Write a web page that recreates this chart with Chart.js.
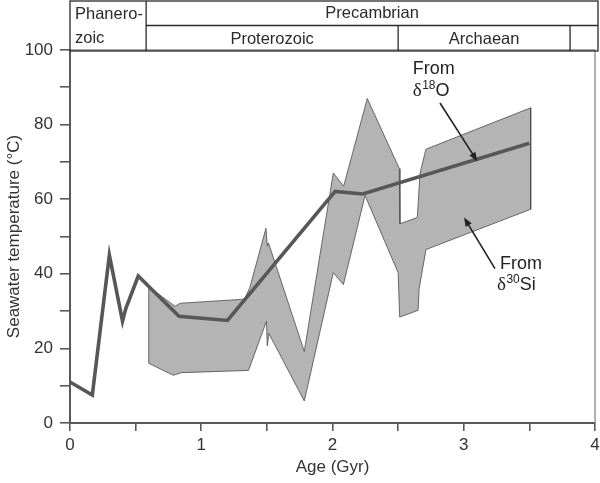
<!DOCTYPE html>
<html>
<head>
<meta charset="utf-8">
<script src="https://cdn.jsdelivr.net/npm/chart.js@4.4.1/dist/chart.umd.min.js"></script>
<style>
  html, body { margin: 0; padding: 0; background: #fff; }
  #wrap { width: 600px; height: 483px; }
</style>
</head>
<body>
<div id="wrap"><canvas id="my-chart"></canvas></div>
<script>
'use strict';

// *********** DATA ****************

// temperature curve from d18O
let oxygenAge = [0, 0.17, 0.3, 0.4, 0.425, 0.52, 0.83, 1.2, 2.02, 2.23, 3.5];
let oxygenTemp = [11, 7.5, 45, 27.3, 30.7, 39.4, 28.6, 27.5, 62.1, 61.4, 75];

// range from d30Si, traced round its outline (top edge left to right, then bottom edge back)
let siliconAge = [0.6, 0.8, 0.84, 1.33, 1.37, 1.493, 1.503, 1.512, 1.785, 2.006, 2.085, 2.265,
  2.509, 2.514, 2.646, 2.667, 2.712, 3.51, 3.51, 2.712, 2.66, 2.652, 2.512, 2.5, 2.248, 2.083,
  2.006, 1.785, 1.515, 1.503, 1.497, 1.36, 0.85, 0.787, 0.6, 0.6];
let siliconTemp = [36.5, 31.3, 32.1, 33.2, 36.3, 52.2, 47.4, 48.3, 19.2, 67, 63.5, 87,
  68.2, 53.4, 55.1, 67, 73.4, 84.5, 57.3, 46.5, 36, 30.2, 28.4, 40.3, 61, 37.1,
  40.3, 5.9, 24, 20.7, 27.3, 14.1, 13.5, 12.8, 16, 36.5];

let xTickLabels = [0, 1, 2, 3, 4];
let yTickLabels = [0, 20, 40, 60, 80, 100];

// geological time scale along the top (Gyr, as drawn in the figure)
let phanerozoicEnd = 0.58;
let eonNames = ['Proterozoic', 'Archaean', ''];
let eonBounds = [0.58, 2.5, 3.81, 4];

// ********** HELPERS *******************

function toPoints(xs, ys) {
  let pts = [];
  for (let i = 0; i < xs.length; i++) {
    pts.push({ x: xs[i], y: ys[i] });
  }
  return pts;
}

let sans = '"Liberation Sans", Arial, sans-serif';
let serif = '"Liberation Serif", "Times New Roman", serif';

// notes drawn over the plot, positions in data units
let notes = [
  { from: [2.611, 93.5], delta: [2.611, 87.7], sup: '18', rest: 'O', tail: [2.819, 85.8], head: [3.103, 70.2] },
  { from: [3.276, 41.4], delta: [3.253, 35.6], sup: '30', rest: 'Si', tail: [3.238, 41.4], head: [3.002, 55.1] }
];

function drawArrow(c, x1, y1, x2, y2) {
  let ang = Math.atan2(y2 - y1, x2 - x1);
  let len = 9;
  let half = 3.5;
  c.beginPath();
  c.moveTo(x1, y1);
  c.lineTo(x2 - Math.cos(ang) * len * 0.8, y2 - Math.sin(ang) * len * 0.8);
  c.stroke();
  c.beginPath();
  c.moveTo(x2, y2);
  c.lineTo(x2 - Math.cos(ang) * len - Math.sin(ang) * half, y2 - Math.sin(ang) * len + Math.cos(ang) * half);
  c.lineTo(x2 - Math.cos(ang) * len + Math.sin(ang) * half, y2 - Math.sin(ang) * len - Math.cos(ang) * half);
  c.closePath();
  c.fill();
}

// ********** PLUGINS *******************

let framePlugin = {
  id: 'frame',
  beforeDatasetsDraw(chart) {
    let c = chart.ctx;
    let a = chart.chartArea;
    c.save();
    c.strokeStyle = '#8a8a8a';
    c.lineWidth = 1.3;
    c.beginPath();
    c.moveTo(a.left, a.top);
    c.lineTo(a.right, a.top);
    c.lineTo(a.right, a.bottom);
    c.stroke();
    c.restore();
  }
};

let headerPlugin = {
  id: 'header',
  afterDraw(chart) {
    let c = chart.ctx;
    let x = chart.scales.x;
    let top = 1;
    let mid = 25.5;
    let bottom = 51;
    let left = x.getPixelForValue(0);
    let right = x.getPixelForValue(4) + 3;
    let split = x.getPixelForValue(phanerozoicEnd);

    c.save();
    c.strokeStyle = '#2a2a2a';
    c.lineWidth = 1.3;
    c.strokeRect(left, top, right - left, bottom - top);
    c.beginPath();
    c.moveTo(split, mid);
    c.lineTo(right, mid);
    for (let i = 0; i < eonBounds.length - 1; i++) {
      let px = x.getPixelForValue(eonBounds[i]);
      c.moveTo(px, i === 0 ? top : mid);
      c.lineTo(px, bottom);
    }
    c.stroke();

    c.fillStyle = '#2a2a2a';
    c.font = '16.5px ' + sans;
    c.textBaseline = 'middle';
    c.textAlign = 'left';
    c.fillText('Phanero-', left + 5, 14);
    c.fillText('zoic', left + 5, 38);
    c.textAlign = 'center';
    c.fillText('Precambrian', (split + right) / 2, 13.5);
    for (let i = 0; i < eonNames.length; i++) {
      let x1 = x.getPixelForValue(eonBounds[i]);
      let x2 = x.getPixelForValue(eonBounds[i + 1]);
      c.fillText(eonNames[i], (x1 + x2) / 2, 39);
    }
    c.restore();
  }
};

let notesPlugin = {
  id: 'notes',
  afterDatasetsDraw(chart) {
    let c = chart.ctx;
    let x = chart.scales.x;
    let y = chart.scales.y;
    c.save();
    c.fillStyle = '#222';
    c.strokeStyle = '#222';
    c.lineWidth = 1.6;
    c.textBaseline = 'alphabetic';
    c.textAlign = 'left';
    for (let n of notes) {
      c.font = '18px ' + sans;
      c.fillText('From', x.getPixelForValue(n.from[0]), y.getPixelForValue(n.from[1]));

      let px = x.getPixelForValue(n.delta[0]);
      let py = y.getPixelForValue(n.delta[1]);
      c.font = '19px ' + serif;
      c.fillText('δ', px, py);
      px += c.measureText('δ').width + 0.5;
      c.font = '12px ' + sans;
      c.fillText(n.sup, px, py - 7);
      px += c.measureText(n.sup).width;
      c.font = '18px ' + sans;
      c.fillText(n.rest, px, py);

      drawArrow(c, x.getPixelForValue(n.tail[0]), y.getPixelForValue(n.tail[1]),
        x.getPixelForValue(n.head[0]), y.getPixelForValue(n.head[1]));
    }
    c.restore();
  }
};

// ********** CHART *******************

let ctx = document.getElementById('my-chart').getContext('2d');

new Chart(ctx, {
  type: 'line',
  data: {
    datasets: [
      {
        label: 'From d18O',
        data: toPoints(oxygenAge, oxygenTemp),
        borderColor: '#575757',
        borderWidth: 3.6,
        borderJoinStyle: 'miter',
        pointRadius: 0,
        fill: false,
        tension: 0,
        order: 0
      },
      {
        label: 'From d30Si',
        data: toPoints(siliconAge, siliconTemp),
        borderColor: '#4a4a4a',
        borderWidth: 0.8,
        backgroundColor: '#b4b4b4',
        borderJoinStyle: 'miter',
        pointRadius: 0,
        fill: 'shape',
        tension: 0,
        order: 1
      }
    ]
  },
  options: {
    responsive: true,
    maintainAspectRatio: false,
    animation: false,
    layout: { padding: { top: 50, right: 0, left: 0, bottom: 0 } },
    plugins: {
      legend: { display: false },
      tooltip: { enabled: false }
    },
    scales: {
      x: {
        type: 'linear',
        min: 0,
        max: 4,
        afterFit(scale) {
          scale.height = 60;
          scale.paddingRight = 5;
        },
        border: { display: true, color: '#595959', width: 2 },
        grid: { drawOnChartArea: false, drawTicks: true, tickLength: 8, tickColor: '#595959', lineWidth: 1.6 },
        ticks: {
          stepSize: 0.5,
          autoSkip: false,
          maxRotation: 0,
          padding: 4,
          color: '#333',
          font: { size: 17, family: sans },
          callback: v => xTickLabels.includes(v) ? String(v) : ''
        },
        title: {
          display: true,
          text: 'Age (Gyr)',
          color: '#333',
          font: { size: 17, family: sans },
          padding: { top: 0, bottom: 5 }
        }
      },
      y: {
        min: 0,
        max: 100,
        afterFit(scale) { scale.width = 70; },
        border: { display: true, color: '#595959', width: 2 },
        grid: { drawOnChartArea: false, drawTicks: true, tickLength: 10, tickColor: '#595959', lineWidth: 1.6 },
        ticks: {
          stepSize: 10,
          autoSkip: false,
          padding: 7,
          color: '#333',
          font: { size: 17, family: sans },
          callback: v => yTickLabels.includes(v) ? String(v) : ''
        },
        title: {
          display: true,
          text: 'Seawater temperature (°C)',
          color: '#333',
          font: { size: 17, family: sans },
          padding: { top: 4, bottom: 0 }
        }
      }
    }
  },
  plugins: [framePlugin, headerPlugin, notesPlugin]
});
</script>
</body>
</html>
